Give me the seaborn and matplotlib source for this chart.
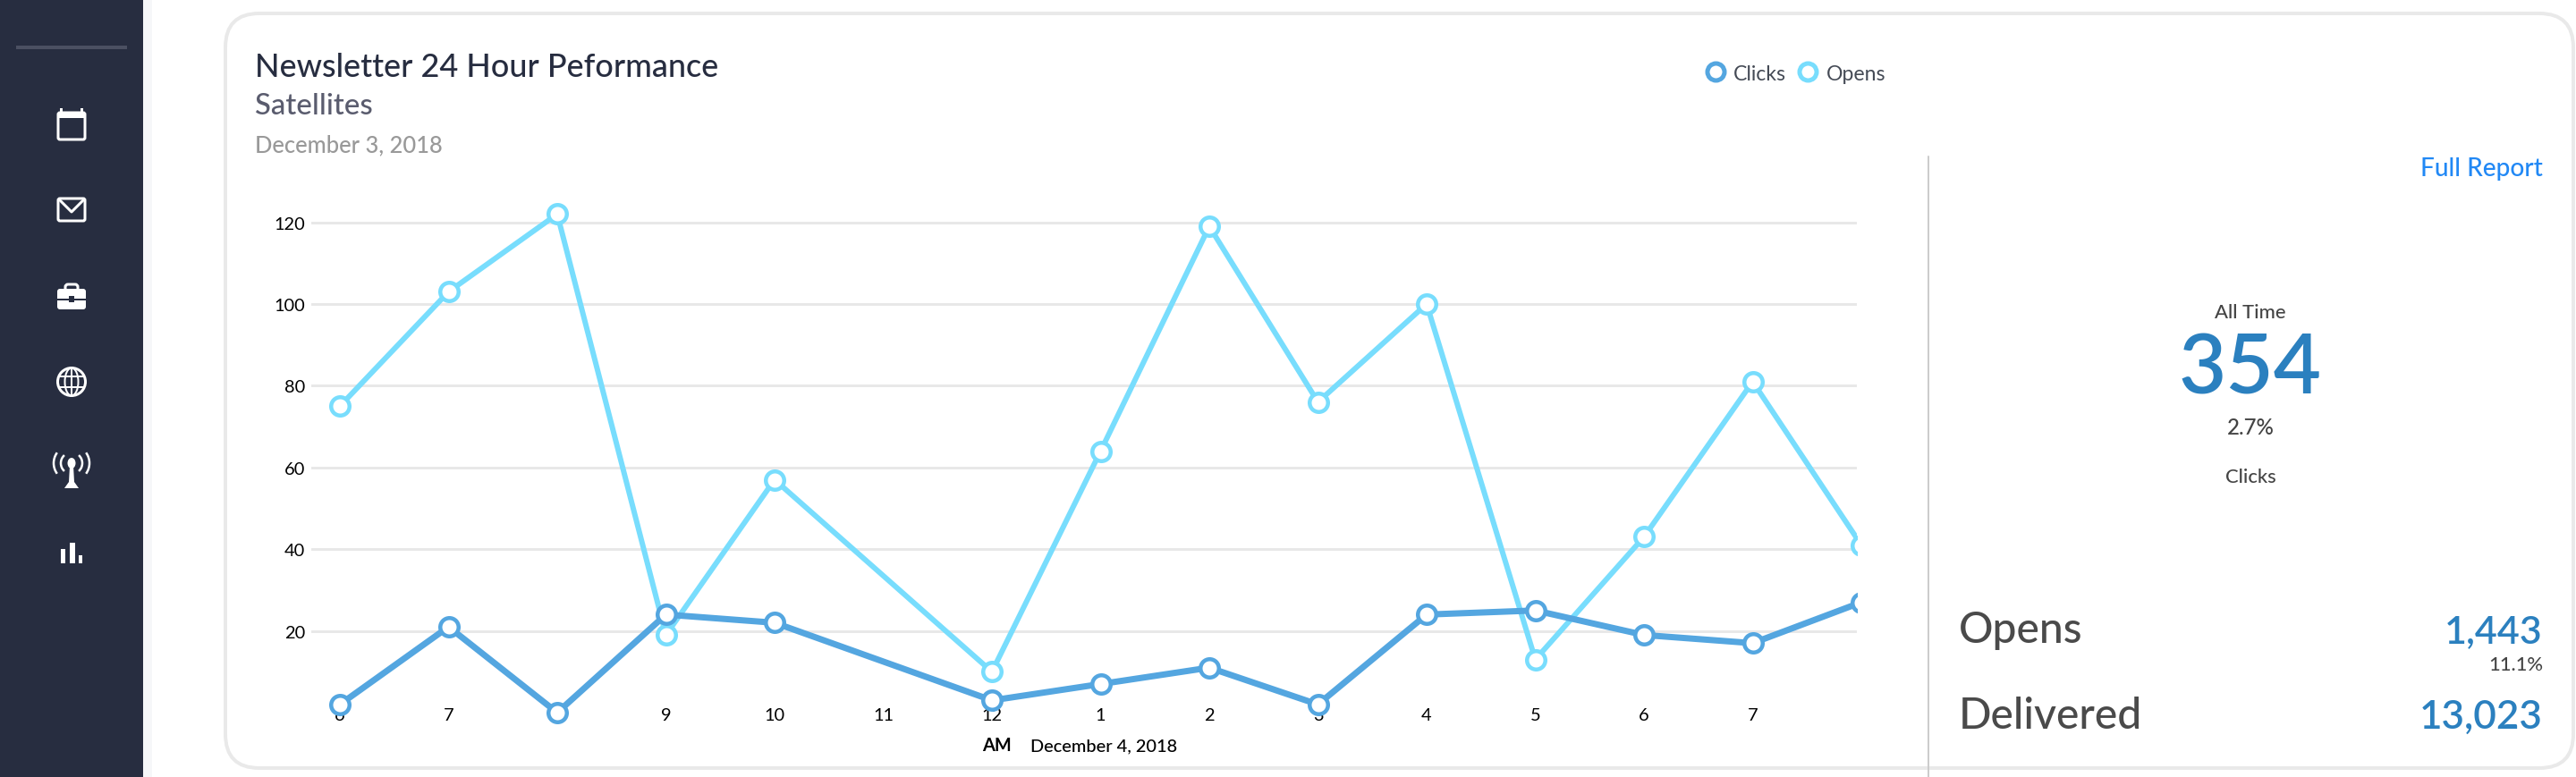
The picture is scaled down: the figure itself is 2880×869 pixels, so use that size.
import matplotlib
matplotlib.use("Agg")
import matplotlib.pyplot as plt
from matplotlib.lines import Line2D
from matplotlib.patches import Rectangle, FancyBboxPatch, Circle, Ellipse, Arc, Polygon
import pandas as pd
import seaborn as sns

hour_labels = ["6", "7", "8", "9", "10", "11", "12", "1", "2", "3", "4", "5", "6", "7", "8"]
visible_labels = ["6", "7", "", "9", "10", "11", "12", "1", "2", "3", "4", "5", "6", "7", ""]
opens = [75, 103, 122, 19, 57, None, 10, 64, 119, 76, 100, 13, 43, 81, 41]
clicks = [2, 21, 0, 24, 22, None, 3, 7, 11, 2, 24, 25, 19, 17, 27]
y_ticks = [20, 40, 60, 80, 100, 120]

FONT = "Lato"
CLICKS = "#54A6E0"
OPENS = "#78DDFD"
BLUE = "#2B80BF"
GREY = "#444444"
NAVY = "#272D40"
W, H = 2880, 870

sns.set_theme(style="white")
plt.rcParams["font.family"] = [FONT, "DejaVu Sans"]
fig = plt.figure(figsize=(W / 100, H / 100), dpi=100, facecolor="white")


def px(v):
    return v * 0.72


deco = fig.add_axes([0, 0, 1, 1], zorder=0)
deco.set_xlim(0, W)
deco.set_ylim(H, 0)
deco.axis("off")


def label(x, y, s, size, color=GREY, ha="left", weight="medium"):
    deco.text(x, y, s, fontsize=px(size), color=color, ha=ha, va="baseline", fontweight=weight)


# sidebar
deco.add_patch(Rectangle((160, 0), 10, H, color="#F6F7F9", lw=0))
deco.add_patch(Rectangle((0, 0), 160, H, color=NAVY, lw=0))
deco.add_patch(Rectangle((18, 52), 124, 4, color="#4B5062", lw=0))
# calendar
deco.add_patch(FancyBboxPatch((65, 127), 30, 30, boxstyle="round,pad=0,rounding_size=2", ec="white", fc="none", lw=px(3)))
deco.add_patch(Rectangle((65, 127), 30, 6, color="white", lw=0))
deco.add_patch(Rectangle((67, 122), 3, 6, color="white", lw=0))
deco.add_patch(Rectangle((90, 122), 3, 6, color="white", lw=0))
# envelope
deco.add_patch(FancyBboxPatch((65, 223), 30, 25, boxstyle="round,pad=0,rounding_size=2", ec="white", fc="none", lw=px(3)))
deco.plot([66, 80, 94], [224, 238, 224], color="white", lw=px(3))
# briefcase
deco.add_patch(FancyBboxPatch((64, 324), 32, 23, boxstyle="round,pad=0,rounding_size=3", ec="none", fc="white"))
deco.add_patch(FancyBboxPatch((73, 319), 14, 8, boxstyle="round,pad=0,rounding_size=3", ec="white", fc="none", lw=px(3)))
deco.add_patch(Rectangle((64, 335), 32, 2, color=NAVY, lw=0))
deco.add_patch(Rectangle((77, 332), 6, 7, color=NAVY, lw=0))
# globe
deco.add_patch(Circle((80, 428), 15.5, ec="white", fc="none", lw=px(3)))
deco.add_patch(Ellipse((80, 428), 15, 31, ec="white", fc="none", lw=px(2)))
deco.plot([80, 80], [412, 444], color="white", lw=px(2))
deco.plot([66, 94], [422, 422], color="white", lw=px(2))
deco.plot([66, 94], [434, 434], color="white", lw=px(2))
# antenna
deco.add_patch(Ellipse((80, 519), 9, 12, color="white", lw=0))
deco.add_patch(Polygon([[78, 522], [82, 522], [83, 540], [88, 547], [72, 547], [77, 540]], color="white", lw=0))
for r, span in ((12, 48), (20, 36)):
    deco.add_patch(Arc((80, 519), 2 * r, 2 * r, theta1=180 - span, theta2=180 + span, color="white", lw=px(2.5)))
    deco.add_patch(Arc((80, 519), 2 * r, 2 * r, theta1=-span, theta2=span, color="white", lw=px(2.5)))
# bars
for x0, x1, top_y in [(68, 73, 615), (77.5, 84, 608), (88, 92, 622)]:
    deco.add_patch(Rectangle((x0, top_y), x1 - x0, 631 - top_y, color="white", lw=0))

# card and divider
deco.add_patch(FancyBboxPatch((252, 16), 2625, 844, boxstyle="round,pad=0,rounding_size=38", ec="#E9E9E9", fc="white", lw=px(4)))
deco.plot([2155.5, 2155.5], [176, H], color="#CCCCCC", lw=px(2))

# header
label(285, 86, "Newsletter 24 Hour Peformance", 36, "#272D40")
label(285, 128, "Satellites", 33, "#5A5C6E")
label(285, 170, "December 3, 2018", 25.5, "#999999")

# chart axes
left, right, top, bottom = 348, 2076, 200, 832
ax = fig.add_axes([left / W, 1 - bottom / H, (right - left) / W, (bottom - top) / H], zorder=1)
ax.patch.set_alpha(0)

df = pd.DataFrame({"pos": range(len(hour_labels)), "Opens": opens, "Clicks": clicks})
for name, color, width in [("Opens", OPENS, 6), ("Clicks", CLICKS, 7)]:
    sns.lineplot(
        data=df.dropna(subset=[name]), x="pos", y=name, ax=ax, color=color,
        lw=px(width), marker="o", markersize=px(20.5), markerfacecolor="white",
        markeredgecolor=color, markeredgewidth=px(4.5), legend=False, errorbar=None,
    )

ax.set_xlabel("")
ax.set_ylabel("")
ax.set_xticks(range(len(hour_labels)), visible_labels)
ax.set_yticks(y_ticks)
step = 121.5
ax.set_xlim(-(380 - left) / step, (right - 380) / step)
unit = 91.4 / 20
ax.set_ylim(-(bottom - 798) / unit, (798 - top) / unit)
ax.set_axisbelow(True)
ax.grid(False)
ax.grid(axis="y", color="#E8E8E8", lw=px(3))
sns.despine(ax=ax, left=True, bottom=True, top=True, right=True)
ax.tick_params(axis="x", length=0, pad=px(-(bottom - 792)), labelsize=px(20), labelcolor="black")
ax.tick_params(axis="y", length=0, pad=px(7), labelsize=px(20), labelcolor="black")

handles = [
    Line2D([], [], ls="none", marker="o", ms=px(19), mfc="white", mec=c, mew=px(5))
    for c in (CLICKS, OPENS)
]
leg = ax.legend(
    handles, ["Clicks", "Opens"], ncol=2, frameon=False, loc="center left",
    bbox_to_anchor=(1906 / W, 1 - 83 / H), bbox_transform=fig.transFigure,
    fontsize=px(23), handlelength=1.0, handletextpad=0.4, columnspacing=0.55,
    borderpad=0, borderaxespad=0, labelcolor="#444A55",
)

# x axis caption
label(1098, 840, "AM", 20, "black", weight="bold")
label(1152, 840, "December 4, 2018", 20, "black")

# side panel
label(2843, 197, "Full Report", 28, "#2188F5", ha="right")
label(2516, 356, "All Time", 22, GREY, ha="center")
label(2516, 441, "354", 92, BLUE, ha="center", weight="semibold")
label(2516, 486, "2.7%", 24, GREY, ha="center")
label(2516, 540, "Clicks", 22, GREY, ha="center")
label(2190, 719, "Opens", 48, "#4A4A4A")
label(2843, 719, "1,443", 43, BLUE, ha="right", weight="semibold")
label(2843, 750, "11.1%", 22, GREY, ha="right")
label(2190, 815, "Delivered", 48, "#4A4A4A")
label(2843, 815, "13,023", 44, BLUE, ha="right", weight="semibold")

fig.savefig("out.png", dpi=100, facecolor="white")
